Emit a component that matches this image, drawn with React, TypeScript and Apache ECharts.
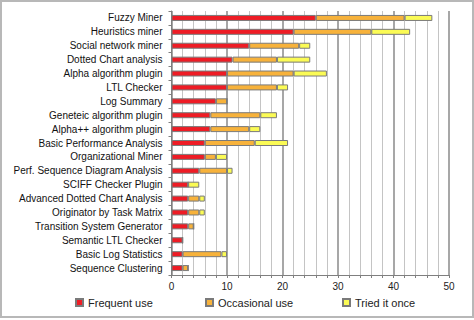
import React, { useEffect, useRef } from "react";
import * as echarts from "echarts";

const categories = [
  "Fuzzy Miner",
  "Heuristics miner",
  "Social network miner",
  "Dotted Chart analysis",
  "Alpha algorithm plugin",
  "LTL Checker",
  "Log Summary",
  "Geneteic algorithm plugin",
  "Alpha++ algorithm plugin",
  "Basic Performance Analysis",
  "Organizational Miner",
  "Perf. Sequence Diagram Analysis",
  "SCIFF Checker Plugin",
  "Advanced Dotted Chart Analysis",
  "Originator by Task Matrix",
  "Transition System Generator",
  "Semantic LTL Checker",
  "Basic Log Statistics",
  "Sequence Clustering",
];

const frequentUse = [26, 22, 14, 11, 10, 10, 8, 7, 7, 6, 6, 5, 3, 3, 3, 3, 2, 2, 2];
const occasionalUse = [16, 14, 9, 8, 12, 9, 2, 9, 7, 9, 2, 5, 0, 2, 2, 1, 0, 7, 1];
const triedItOnce = [5, 7, 2, 6, 6, 2, 0, 3, 2, 6, 2, 1, 2, 1, 1, 0, 0, 1, 0];

const seriesNames = ["Frequent use", "Occasional use", "Tried it once"];
const seriesColors = ["#ee1c25", "#f7b23b", "#fbfb55"];

const FONT = "'Liberation Sans', Arial, sans-serif";

export default function App() {
  const ref = useRef<HTMLDivElement>(null);

  useEffect(() => {
    document.body.style.margin = "0";
    if (!ref.current) return;
    const chart = echarts.init(ref.current, undefined, { renderer: "svg" });
    const values = [frequentUse, occasionalUse, triedItOnce];

    chart.setOption({
      animation: false,
      backgroundColor: "#ffffff",
      graphic: [
        {
          type: "rect",
          shape: { x: 1, y: 1, width: 472, height: 316 },
          style: { fill: "none", stroke: "#b8b8b8", lineWidth: 2 },
          silent: true,
        },
      ],
      grid: { left: 171.5, right: 25, top: 11, bottom: 45 },
      legend: seriesNames.map((name, i) => ({
        data: [name],
        left: [70, 200, 337][i],
        top: 292,
        itemWidth: 7,
        itemHeight: 7,
        itemGap: 0,
        icon: "rect",
        textStyle: { fontFamily: FONT, fontSize: 11, color: "#222" },
      })),
      xAxis: {
        type: "value",
        min: 0,
        max: 50,
        interval: 10,
        axisLine: { show: true, lineStyle: { color: "#7f7f7f", width: 1 } },
        axisTick: { show: true, length: 3, lineStyle: { color: "#7f7f7f" } },
        axisLabel: { fontFamily: FONT, fontSize: 10, color: "#222", margin: 6 },
        splitLine: { show: true, lineStyle: { color: "#8a8a8a", width: 1.5 } },
        minorTick: { show: true, splitNumber: 5, length: 3, lineStyle: { color: "#7f7f7f" } },
        minorSplitLine: { show: true, lineStyle: { color: "#c4c4c4", width: 1 } },
      },
      yAxis: {
        type: "category",
        inverse: true,
        data: categories,
        axisLine: { show: true, lineStyle: { color: "#7f7f7f", width: 1 } },
        axisTick: { show: true, length: 3, lineStyle: { color: "#7f7f7f" } },
        axisLabel: { fontFamily: FONT, fontSize: 10, color: "#111", margin: 9 },
      },
      series: seriesNames.map((name, i) => ({
        name,
        type: "bar",
        stack: "total",
        barWidth: 6,
        data: values[i],
        itemStyle: {
          color: seriesColors[i],
          borderColor: "#7a7a7a",
          borderWidth: 1,
        },
      })),
    });

    return () => chart.dispose();
  }, []);

  return <div ref={ref} style={{ width: 474, height: 320 }} />;
}
